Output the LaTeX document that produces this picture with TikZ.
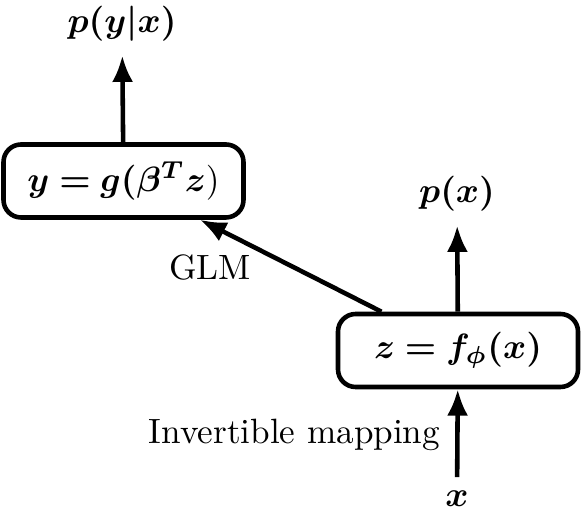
\documentclass[tikz,border=0pt]{standalone}
\usepackage{amsmath,bm}
\usetikzlibrary{arrows.meta}
\begin{document}
\begin{tikzpicture}[line width=1.3pt,
		blk/.style={draw,rounded corners=5pt,minimum width=2.4cm,minimum height=0.73cm},
		arr/.style={-{Latex[length=7.5pt,width=6pt]}}]
				\useasboundingbox (0,0) rectangle (5.81,5.12);
				\node[blk] (G) at (1.235,3.31) {$\bm{y=g(\beta^Tz})$};
				\node[blk] (F) at (4.58,1.615) {$\bm{z=f_\phi(x)}$};
				\node (pyx) at (1.22,4.88) {$\bm{p(y|x)}$};
				\node (px) at (4.57,3.18) {$\bm{p(x)}$};
				\node (x) at (4.57,0.13) {$\bm{x}$};
				\node (glm) at (2.10,2.44) {GLM};
				\node[anchor=east] (inv) at (4.54,0.77) {Invertible mapping};
				\draw[arr] (G) -- (pyx);
				\draw[arr] (F) -- (px);
				\draw[arr] (x) -- (F);
				\draw[arr] (F) -- (G);
			\end{tikzpicture}
\end{document}
